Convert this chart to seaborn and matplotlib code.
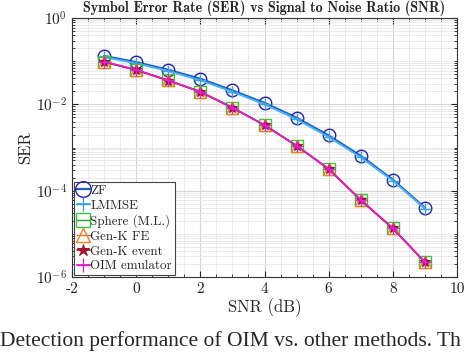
import numpy as np
import pandas as pd
import matplotlib
matplotlib.use("Agg")
import matplotlib.pyplot as plt
import seaborn as sns
from matplotlib.ticker import FixedLocator, MultipleLocator, NullFormatter

snr = [-1, 0, 1, 2, 3, 4, 5, 6, 7, 8, 9]
ser_zf = [0.132, 0.095, 0.063, 0.039, 0.021, 0.0108, 0.0049, 0.0019, 6.4e-4, 1.8e-4, 4.0e-5]
ser_lmmse = [0.124, 0.089, 0.059, 0.036, 0.0195, 0.0100, 0.0045, 0.00175, 5.9e-4, 1.7e-4, 3.8e-5]
ser_sphere = [0.097, 0.063, 0.036, 0.0196, 0.0084, 0.0033, 0.0011, 3.2e-4, 6.1e-5, 1.35e-5, 2.2e-6]
ser_genk_fe = [0.097, 0.063, 0.036, 0.0196, 0.0084, 0.0033, 0.0011, 3.2e-4, 6.1e-5, 1.35e-5, 2.2e-6]
ser_genk_event = [0.096, 0.062, 0.0355, 0.0194, 0.0083, 0.0033, 0.0011, 3.15e-4, 6.0e-5, 1.33e-5, 2.2e-6]
ser_oim = [0.097, 0.063, 0.036, 0.0196, 0.0084, 0.0033, 0.0011, 3.2e-4, 6.1e-5, 1.35e-5, 2.2e-6]

labels = ["ZF", "LMMSE", "Sphere (M.L.)", "Gen-K FE", "Gen-K event", "OIM emulator"]
series = [ser_zf, ser_lmmse, ser_sphere, ser_genk_fe, ser_genk_event, ser_oim]
x_ticks = [-2, 0, 2, 4, 6, 8, 10]
y_ticks = [1, 1e-2, 1e-4, 1e-6]
y_ticklabels = [r"$10^{0}$", r"$10^{-2}$", r"$10^{-4}$", r"$10^{-6}$"]
caption = "Detection performance of OIM vs. other methods. Th"

sns.set_style("ticks")
plt.rcParams["font.family"] = ["cmr10", "DejaVu Serif"]
plt.rcParams["mathtext.fontset"] = "cm"
plt.rcParams["axes.unicode_minus"] = False
plt.rcParams["axes.formatter.use_mathtext"] = True

fig = plt.figure(figsize=(4.74, 3.52), dpi=100)
ax = fig.add_axes([72 / 474, 1 - 277 / 352, (457 - 72) / 474, (277 - 18) / 352])

styles = [
    dict(color="#1f5fc8", marker="o", ms=9, mfc="none", mec="#2222aa", mew=1.0, lw=1.6),
    dict(color="#4cb4ee", marker="+", ms=8, mfc="none", mec="#3aa0e0", mew=1.0, lw=1.4),
    dict(color="#2e9e2e", marker="s", ms=8, mfc="none", mec="#33cc33", mew=1.0, lw=1.0),
    dict(color="#e07020", marker="^", ms=8, mfc="none", mec="#f08020", mew=1.0, lw=1.0),
    dict(color="#a0102a", marker="*", ms=7, mfc="#a0102a", mec="#a0102a", mew=0.8, lw=1.2),
    dict(color="#e020c8", marker="+", ms=8, mfc="none", mec="#e020e0", mew=1.0, lw=1.3),
]

for lab, vals, st in zip(labels, series, styles):
    df = pd.DataFrame({"SNR": snr, "SER": vals})
    sns.lineplot(data=df, x="SNR", y="SER", ax=ax, label=lab,
                 color=st["color"], marker=st["marker"], markersize=st["ms"],
                 markerfacecolor=st["mfc"], markeredgecolor=st["mec"],
                 markeredgewidth=st["mew"], linewidth=st["lw"])

ax.set_yscale("log")
ax.set_xlim(-2, 10)
ax.set_ylim(1e-6, 1)
ax.set_xticks(x_ticks)
ax.set_xticklabels([str(t) for t in x_ticks])
ax.xaxis.set_minor_locator(MultipleLocator(0.5))
ax.yaxis.set_major_locator(FixedLocator(y_ticks))
ax.set_yticklabels(y_ticklabels)
minor = [m * 10.0 ** k for k in range(-6, 0) for m in range(1, 10)]
ax.yaxis.set_minor_locator(FixedLocator(minor))
ax.yaxis.set_minor_formatter(NullFormatter())

ax.grid(which="major", color="#d4d4d4", lw=0.8)
ax.grid(which="minor", color="#e6e6e6", lw=0.6)
ax.set_axisbelow(True)
ax.tick_params(which="both", direction="in", top=True, right=True, labelsize=11, colors="#222222")
ax.tick_params(which="major", length=4)
ax.tick_params(which="minor", length=2)
for sp in ax.spines.values():
    sp.set_color("#333333")
    sp.set_linewidth(0.8)

ax.set_xlabel("SNR (dB)", fontsize=12, labelpad=2)
ax.set_ylabel("SER", fontsize=12, labelpad=2)
ax.set_title("Symbol Error Rate (SER) vs Signal to Noise Ratio (SNR)", fontsize=10.2,
             fontfamily=["cmb10", "DejaVu Serif"], pad=4)

leg = ax.legend(loc="lower left", fontsize=9.4, handlelength=1.0, handletextpad=0.05,
                borderpad=0.2, labelspacing=0.2, borderaxespad=0.15, fancybox=False,
                framealpha=1, edgecolor="#444444", markerscale=1.25)
leg.get_frame().set_linewidth(0.8)

fig.text(0.0, 0.002, caption, fontsize=15.5, fontfamily=["Liberation Serif"],
         va="bottom", ha="left")

fig.savefig("out.png", dpi=100)
